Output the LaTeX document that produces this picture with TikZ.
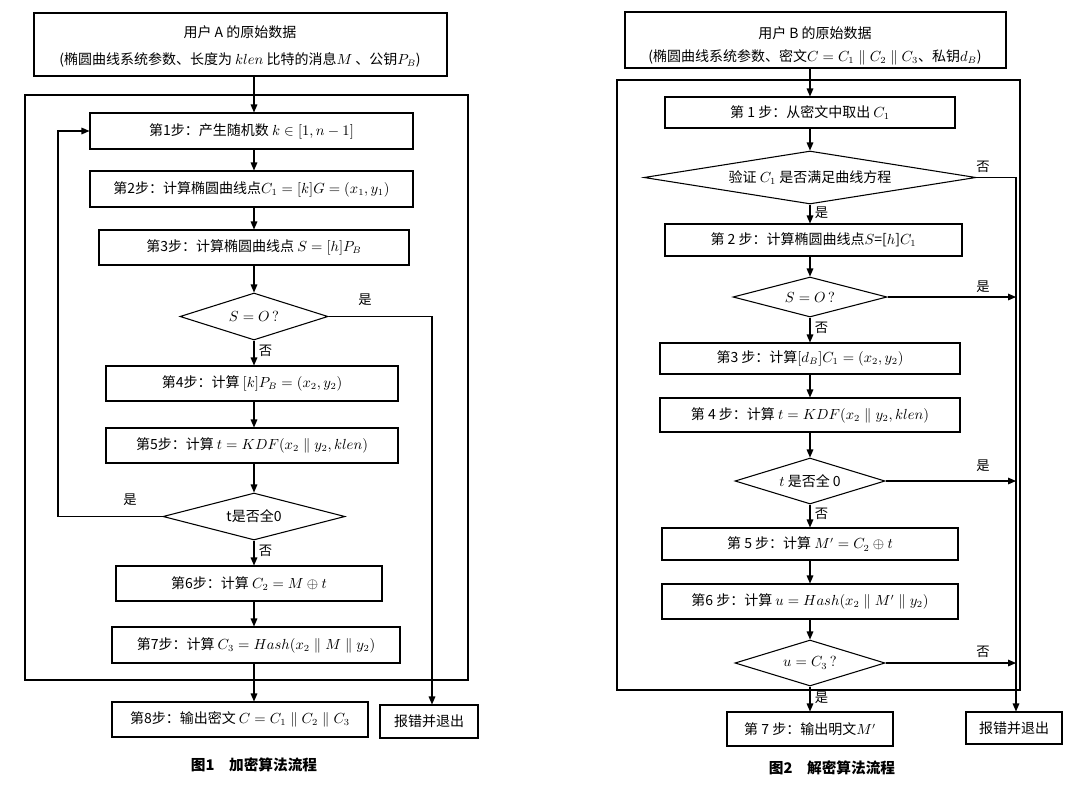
\documentclass[tikz,border=0pt]{standalone}
\usepackage{fontspec}
\setmainfont{Noto Sans CJK SC}
\usetikzlibrary{arrows.meta,shapes.geometric}
\begin{document}
\begin{tikzpicture}[x=0.75pt,y=-0.75pt,
  box/.style={draw,line width=0.8pt,inner sep=0pt},
  dia/.style={draw,line width=0.8pt,diamond,inner sep=0pt},
  lab/.style={font=\fontsize{10}{12}\selectfont},
  ar/.style={-{Triangle[length=6pt,width=5pt]},line width=0.8pt},
  ln/.style={line width=0.8pt},
  every node/.style={font=\fontsize{10.5}{13}\selectfont}]
\useasboundingbox (0,0) rectangle (1075,786);
\newcommand{\bx}[6]{\node[box,minimum width={(#3-#2)*0.75pt},minimum height={(#5-#4)*0.75pt}] (#1) at ({(#2+#3)/2},{(#4+#5)/2}) {#6};}
\newcommand{\dm}[6]{\pgfmathsetmacro{\myasp}{(#3-#2)/(#5-#4)}\node[dia,minimum width={(#3-#2)*0.75pt},minimum height={(#5-#4)*0.75pt},aspect=\myasp] (#1) at ({(#2+#3)/2},{(#4+#5)/2}) {#6};}
\coordinate (lc) at (254,0);
\coordinate (rc) at (810,0);
% ---------- left
\bx{a0}{34}{447}{13}{76}{}
\node at (240,32) {用户 A 的原始数据};
\node at (240,60) {(椭圆曲线系统参数、长度为 $klen$ 比特的消息$M$ 、公钥$P_B$)};
\draw[ln] (25,95) rectangle (468,680);
\bx{a1}{90}{413}{113}{149}{第1步：产生随机数 $k\in[1,n-1]$}
\bx{a2}{90}{413}{171}{207}{第2步：计算椭圆曲线点$C_1=[k]G=(x_1,y_1)$}
\bx{a3}{99}{409}{230}{265}{第3步：计算椭圆曲线点 $S=[h]P_B$}
\dm{ad1}{180}{328}{293}{340}{$S=O\,?$}
\bx{a4}{106}{398}{366}{401}{第4步：计算 $[k]P_B=(x_2,y_2)$}
\bx{a5}{106}{398}{428}{463}{第5步：计算 $t=KDF(x_2\parallel y_2,klen)$}
\dm{ad2}{163}{345}{493}{540}{t是否全0}
\bx{a6}{116}{382}{566}{601}{第6步：计算 $C_2=M\oplus t$}
\bx{a7}{112}{400}{627}{663}{第7步：计算 $C_3=Hash(x_2\parallel M\parallel y_2)$}
\bx{a8}{112}{368}{702}{737}{第8步：输出密文 $C=C_1\parallel C_2\parallel C_3$}
\bx{ae}{380}{478}{705}{738}{报错并退出}
\node[font=\bfseries\fontsize{11}{13}\selectfont] at (254,765) {图1\quad 加密算法流程};
\draw[ar] (a0.south -| lc) -- (a1.north -| lc);
\draw[ar] (a1.south -| lc) -- (a2.north -| lc);
\draw[ar] (a2.south -| lc) -- (a3.north -| lc);
\draw[ar] (a3.south -| lc) -- (ad1.north);
\draw[ar] (ad1.south) -- node[lab,right,pos=0.4]{否} (a4.north -| lc);
\draw[ar] (a4.south -| lc) -- (a5.north -| lc);
\draw[ar] (a5.south -| lc) -- (ad2.north);
\draw[ar] (ad2.south) -- node[lab,right,pos=0.4]{否} (a6.north -| lc);
\draw[ar] (a6.south -| lc) -- (a7.north -| lc);
\draw[ar] (a7.south -| lc) -- (a8.north -| lc);
\coordinate (ac1) at (432,316.5);
\draw[ar] (ad1.east) -- (ac1) -- (ae.north -| ac1);
\node[lab] at (365,300) {是};
\coordinate (ac2) at (58,516.5);
\coordinate (ac3) at (58,131);
\draw[ar] (ad2.west) -- (ac2) -- (ac3) -- (a1.west);
\node[lab] at (130,500) {是};
% ---------- right
\bx{b0}{625}{1006}{12}{68}{}
\node at (815,33) {用户 B 的原始数据};
\node at (815,57) {(椭圆曲线系统参数、密文$C=C_1\parallel C_2\parallel C_3$、私钥$d_B$)};
\draw[ln] (617,80) rectangle (1020,690);
\bx{b1}{665}{955}{97}{128}{第 1 步：从密文中取出 $C_1$}
\dm{bd1}{644}{976}{151}{204}{验证 $C_1$ 是否满足曲线方程}
\bx{b2}{665}{962}{224}{256}{第 2 步：计算椭圆曲线点$S$=[$h$]$C_1$}
\dm{bd2}{733}{887}{277}{317}{$S=O\,?$}
\bx{b3}{660}{960}{343}{374}{第3 步：计算$[d_B]C_1=(x_2,y_2)$}
\bx{b4}{660}{960}{398}{432}{第 4 步：计算 $t=KDF(x_2\parallel y_2,klen)$}
\dm{bd3}{735}{885}{458}{504}{$t$ 是否全 0}
\bx{b5}{662}{958}{528}{560}{第 5 步：计算 $M'=C_2\oplus t$}
\bx{b6}{662}{958}{584}{619}{第6 步：计算 $u=Hash(x_2\parallel M'\parallel y_2)$}
\dm{bd4}{735}{885}{640}{686}{$u=C_3\,?$}
\bx{b7}{727}{893}{712}{746}{第 7 步：输出明文$M'$}
\bx{be}{966}{1062}{712}{744}{报错并退出}
\node[font=\bfseries\fontsize{11}{13}\selectfont] at (832,768) {图2\quad 解密算法流程};
\draw[ar] (b0.south -| rc) -- (b1.north -| rc);
\draw[ar] (b1.south -| rc) -- (bd1.north);
\draw[ar] (bd1.south) -- node[lab,right,pos=0.45]{是} (b2.north -| rc);
\draw[ar] (b2.south -| rc) -- (bd2.north);
\draw[ar] (bd2.south) -- node[lab,right,pos=0.4]{否} (b3.north -| rc);
\draw[ar] (b3.south -| rc) -- (b4.north -| rc);
\draw[ar] (b4.south -| rc) -- (bd3.north);
\draw[ar] (bd3.south) -- node[lab,right,pos=0.4]{否} (b5.north -| rc);
\draw[ar] (b5.south -| rc) -- (b6.north -| rc);
\draw[ar] (b6.south -| rc) -- (bd4.north);
\draw[ar] (bd4.south) -- node[lab,right,pos=0.45]{是} (b7.north -| rc);
\coordinate (bc1) at (1016,177.5);
\draw[ar] (bd1.east) -- (bc1) -- (be.north -| bc1);
\node[lab] at (983,167) {否};
\coordinate (bc2) at (1016,297);
\coordinate (bc3) at (1016,481);
\coordinate (bc4) at (1016,663);
\draw[ar] (bd2.east) -- (bc2); \node[lab] at (983,287) {是};
\draw[ar] (bd3.east) -- (bc3); \node[lab] at (983,466) {是};
\draw[ar] (bd4.east) -- (bc4); \node[lab] at (983,652) {否};
\end{tikzpicture}
\end{document}
